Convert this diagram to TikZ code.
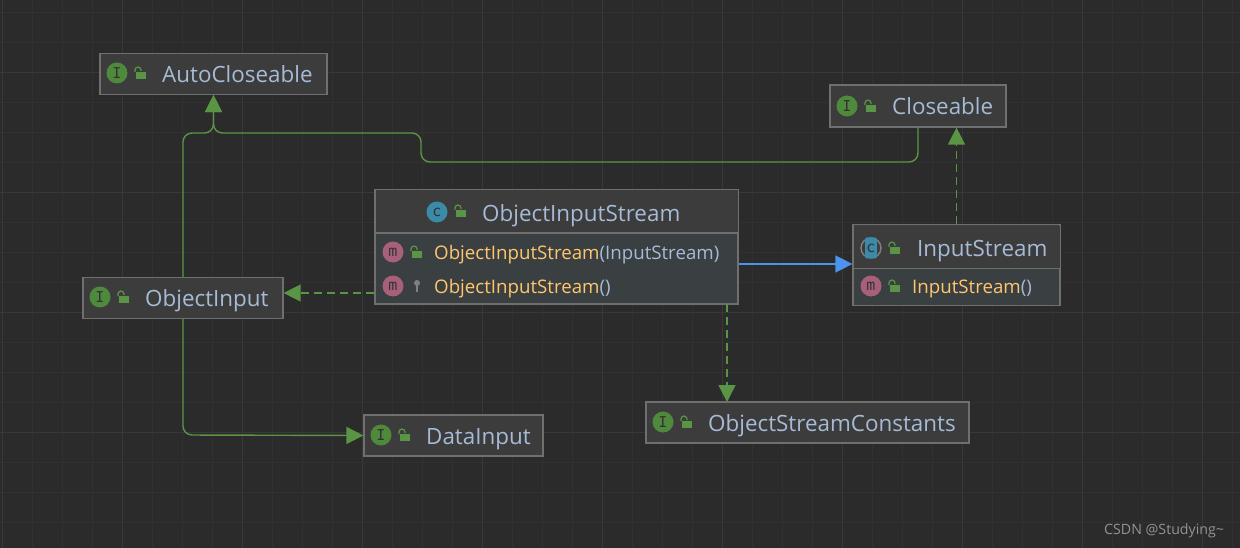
\documentclass[tikz,border=0pt]{standalone}
\usepackage{fontspec}
\setmainfont{Open Sans}
\newfontfamily\iconfont{DejaVu Sans Mono}
\usetikzlibrary{arrows.meta, calc}
\definecolor{bgcol}{HTML}{2B2B2B}
\definecolor{gridcol}{HTML}{313131}
\definecolor{majorcol}{HTML}{393939}
\definecolor{headcol}{HTML}{3C3C3C}
\definecolor{bodycol}{HTML}{3A3F42}
\definecolor{edgecol}{HTML}{6F6F6F}
\definecolor{namecol}{HTML}{A6BBD6}
\definecolor{methcol}{HTML}{FFC66D}
\definecolor{greencol}{HTML}{5A9445}
\definecolor{icgreen}{HTML}{4F8A3C}
\definecolor{iccyan}{HTML}{3A8AA8}
\definecolor{icred}{HTML}{A8607A}
\definecolor{linkblue}{HTML}{4C93F0}
\tikzset{
  x=1pt, y=-1pt,
  box/.style={draw=edgecol, line width=1.2pt, fill=headcol, minimum height=41pt, inner sep=0pt},
  bodybox/.style={draw=edgecol, line width=1.2pt, fill=bodycol, inner sep=0pt},
  ctitle/.style={text=namecol, font=\fontsize{22.4}{26}\selectfont, anchor=base west, inner sep=0pt},
  meth/.style={text=methcol, font=\fontsize{18.7}{22}\selectfont, anchor=base west, inner sep=0pt},
  icon/.style={circle, minimum size=21pt, inner sep=0pt, text=black!80, font=\iconfont\fontsize{15}{16}\selectfont},
  ifc/.style={icon, fill=icgreen},
  cls/.style={icon, fill=iccyan},
  mth/.style={icon, fill=icred},
  ext/.style={greencol, line width=1.4pt, rounded corners=9pt, -{Triangle[length=17pt, width=17pt]}},
  impl/.style={greencol, line width=1.4pt, dash pattern=on 8pt off 5pt, -{Triangle[length=17pt, width=17pt]}},
  uses/.style={linkblue, line width=1.4pt, -{Triangle[length=17pt, width=17pt]}}
}
% open padlock next to the icons
\newcommand{\lockat}[1]{
  \fill[greencol] ($(#1)+(-4,-1)$) rectangle ($(#1)+(6,6)$);
  \draw[greencol, line width=1.2pt] ($(#1)+(-5,-1)$) -- ($(#1)+(-5,-3)$) arc[start angle=180, end angle=360, radius=3] -- ($(#1)+(1,-2)$);
}
\begin{document}
\begin{tikzpicture}
\useasboundingbox (0,0) rectangle (1240,548);
\fill[bgcol] (0,0) rectangle (1240,548);
\foreach \x in {2,32,...,1232} \draw[gridcol, line width=.8pt] (\x,0) -- (\x,548);
\foreach \y in {12,42,...,542} \draw[gridcol, line width=.8pt] (0,\y) -- (1240,\y);
\foreach \x in {2,122,...,1202} \draw[majorcol, line width=.8pt] (\x,0) -- (\x,548);
\foreach \y in {72,192,...,552} \draw[majorcol, line width=.8pt] (0,\y) -- (1240,\y);

% classes
\node[box, minimum width=227pt] (auto) at (213.5,74) {};
\node[ifc] (autoi) at (117,73) {I};
\lockat{140,73}
\node[ctitle] (autot) at (162,83) {AutoCloseable};

\node[box, minimum width=176pt, minimum height=42pt] (close) at (918,106) {};
\node[ifc] (closei) at (847,106) {I};
\lockat{870,106}
\node[ctitle] (closet) at (892,115) {Closeable};

\node[box, minimum width=200pt] (input) at (183,298) {};
\node[ifc] (inputi) at (100,297) {I};
\lockat{123,297}
\node[ctitle] (inputt) at (145,306.5) {ObjectInput};

\node[box, minimum width=179pt] (data) at (453.5,435.5) {};
\node[ifc] (datai) at (381,435) {I};
\lockat{404,435}
\node[ctitle] (datat) at (426,444) {DataInput};

\node[box, minimum width=323pt] (const) at (807.5,422.5) {};
\node[ifc] (consti) at (663,422) {I};
\lockat{686,422}
\node[ctitle] (constt) at (708,431) {ObjectStreamConstants};

% ObjectInputStream
\node[bodybox, minimum width=363pt, minimum height=114pt] (ois) at (556.5,247) {};
\node[box, draw=none, minimum width=362pt, minimum height=42pt] (oishead) at (556.5,211.5) {};
\draw[edgecol, line width=1.2pt] (oishead.south west) -- (oishead.south east);
\node[cls] (oisc) at (437,212) {c};
\lockat{460,211}
\node[ctitle] (oist) at (482,221.5) {ObjectInputStream};
\node[mth] (oism) at (393,252) {m};
\lockat{416,252}
\node[meth] (oisa) at (434,259) {ObjectInputStream\textcolor{namecol}{(InputStream)}};
\node[mth] (oisn) at (393,286) {m};
\fill[gray] (417,283) circle[radius=3];
\draw[gray, line width=1.6pt] (417,285) -- (417,292);
\node[meth] (oisb) at (434,293) {ObjectInputStream\textcolor{namecol}{()}};

% InputStream
\node[bodybox, minimum width=207pt, minimum height=81pt] (is) at (956.5,265) {};
\node[box, draw=none, minimum width=206pt, minimum height=42pt] (ishead) at (956.5,247) {};
\draw[edgecol, line width=1.2pt] (ishead.south west) -- (ishead.south east);
\node[circle, draw=gray, line width=1.4pt, minimum size=20pt, inner sep=0pt] (isring) at (871,248) {};
\node[icon, rectangle, rounded corners=2pt, fill=iccyan, minimum width=12pt, minimum height=21pt] (isc) at (871,248) {c};
\lockat{894,248}
\node[ctitle] (ist) at (917,257) {InputStream};
\node[mth] (ism) at (871,286) {m};
\lockat{894,286}
\node[meth] (isb) at (912,293) {InputStream\textcolor{namecol}{()}};

% links
\coordinate (oisout) at (ois.east |- 0,264);
\coordinate (isin) at (is.west |- 0,264);
\coordinate (oisleft) at (ois.west |- 0,293);
\coordinate (inputr) at (input.east |- 0,293);
\coordinate (oisdown) at (727,304);
\coordinate (constup) at (727,402);
\draw[ext] (input.north) -- (183,133) -- (213.5,133) -- (auto.south);
\draw[ext] (close.south) -- (918,162) -- (421,162) -- (421,133) -- (213.5,133) -- (auto.south);
\draw[ext] (input.south) -- (183,435) -- (data.west);
\draw[impl] (is.north) -- (close.south -| is.north);
\draw[impl] (oisleft) -- (inputr);
\draw[impl] (oisdown) -- (constup);
\draw[uses] (oisout) -- (isin);

\node[text=gray!85, font=\fontsize{14.2}{16}\selectfont, anchor=base west, inner sep=0pt] (mark) at (1104,534) {CSDN @Studying\char`\~};
\end{tikzpicture}
\end{document}
